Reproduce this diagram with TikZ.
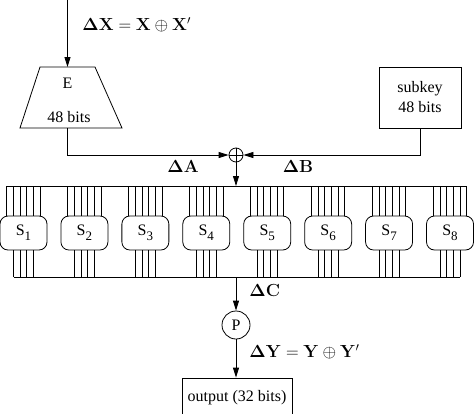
\RequirePackage{fix-cm}
\documentclass[tikz,border=0pt]{standalone}
\usepackage[no-math]{fontspec}
\setmainfont{Liberation Serif}
\usetikzlibrary{arrows.meta}
\begin{document}
\begin{tikzpicture}[x=1pt,y=-1pt,line width=0.8pt,
  txt/.style={font=\fontsize{16}{20}\selectfont, inner sep=0pt},
  mtxt/.style={font=\fontsize{17.5}{21}\selectfont, inner sep=0pt},
  arr/.style={-{Triangle[length=10pt,width=6pt]}},
  sbox/.style={draw, rounded corners=8pt, minimum width=47pt, minimum height=34pt, inner sep=0pt, font=\fontsize{16}{20}\selectfont}]
\clip (0,0) rectangle (474,413);
% expansion E
\draw (40,67) -- (95,67) -- (122,128) -- (20,128) -- cycle;
\coordinate (Etop) at (67.5,67);
\coordinate (Ebot) at (67.5,128);
\coordinate (in) at (67.5,-2);
\node[txt] (Elab) at (67.5,83) {E};
\node[txt] (Ebits) at (69,117) {48 bits};
\draw[arr] (in) -- (Etop);
% subkey
\node[draw,txt,minimum width=82pt,minimum height=61pt,align=center] (sk) at (420,97.5) {subkey\\48 bits};
% xor
\node[draw,circle,minimum size=14pt,inner sep=0pt] (xor) at (236,155) {};
\draw (xor.north) -- (xor.south) (xor.west) -- (xor.east);
\draw[arr] (Ebot) |- (xor.west);
\draw[arr] (sk.south) |- (xor.east);
\coordinate (bt) at (236,186);
\coordinate (bb) at (236,277);
\draw[arr] (xor.south) -- (bt);
% S-boxes
\foreach \i in {1,...,8}{
  \node[sbox] (S\i) at ({23.5+(\i-1)*60.93},233) {S\raisebox{-5pt}{\fontsize{13}{13}\selectfont\i}};
  \foreach \k in {-2.5,-1.5,...,2.5}
    \draw ([xshift=\k*6.67pt]S\i.north) -- ([xshift=\k*6.67pt]S\i.north |- bt);
  \foreach \k in {-1.5,-0.5,...,1.5}
    \draw ([xshift=\k*6.67pt]S\i.south) -- ([xshift=\k*6.67pt]S\i.south |- bb);
}
\draw ([xshift=-16.675pt]S1.north |- bt) -- ([xshift=16.675pt]S8.north |- bt);
\draw ([xshift=-10pt]S1.south |- bb) -- ([xshift=10pt]S8.south |- bb);
% P and output
\node[draw,circle,minimum size=28pt,inner sep=0pt,txt] (P) at (236,325) {P};
\draw[arr] (bb) -- (P.north);
\node[draw,txt,minimum width=110pt,minimum height=40pt] (out) at (237,398) {output (32 bits)};
\draw[arr] (P.south) -- (P.south |- out.north);
% labels
\node[mtxt,anchor=west] (dX) at (82,25) {$\mathbf{\Delta X = X \oplus X'}$};
\node[mtxt] (dA) at (183,166) {$\mathbf{\Delta A}$};
\node[mtxt] (dB) at (298,166) {$\mathbf{\Delta B}$};
\node[mtxt,anchor=west] (dC) at (249,290) {$\mathbf{\Delta C}$};
\node[mtxt,anchor=west] (dY) at (249,352) {$\mathbf{\Delta Y = Y \oplus Y'}$};
\end{tikzpicture}
\end{document}
